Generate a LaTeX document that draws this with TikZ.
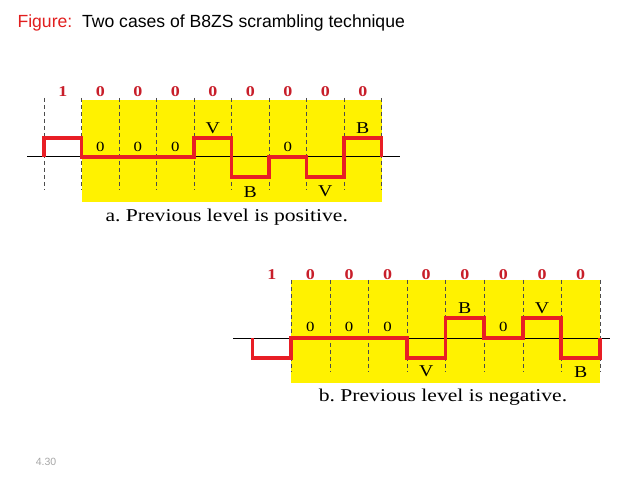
\documentclass[tikz,border=0pt]{standalone}
\usepackage{fontspec}
\setmainfont{Liberation Serif}
\newfontfamily\titlefont{Liberation Sans}
\newfontfamily\wideserif[FakeStretch=1.2]{Liberation Serif}
\usetikzlibrary{positioning}
\definecolor{sigred}{RGB}{232,30,37}
\definecolor{bitred}{RGB}{200,30,42}
\definecolor{hiyellow}{RGB}{255,242,0}
\definecolor{figred}{RGB}{225,30,30}

\begin{document}
\begin{tikzpicture}[x=1pt, y=-1pt,
    bit/.style={font=\wideserif\fontsize{15}{15}\selectfont\bfseries, text=bitred},
    sym/.style={font=\wideserif\fontsize{16.5}{16.5}\selectfont},
    zero/.style={font=\wideserif\fontsize{14}{14}\selectfont},
    caption/.style={font=\wideserif\fontsize{18}{18}\selectfont},
    divline/.style={gray!60!black, thin, dash pattern=on 4pt off 3pt},
    axisline/.style={black, line width=0.7pt},
    signal/.style={sigred, line width=3.8pt, line join=miter}]

    \useasboundingbox (0,0) rectangle (638,478);

    \node[anchor=west, font=\titlefont\fontsize{17.6}{17.6}\selectfont] (title) at (14,23)
        {\textcolor{figred}{Figure:}~~Two cases of B8ZS scrambling technique};

    % a. previous level is positive
    \fill[hiyellow] (81.5,100) rectangle (381.5,202);
    \foreach \i in {0,...,9}
        \draw[divline] ({44+37.5*\i},98) -- ({44+37.5*\i},190);
    \draw[axisline] (27,156.7) -- (400,156.7);
    \draw[signal] (44,156.7) |- (81.5,137.7) |- (194,156.7) |- (231.5,137.7)
        |- (269,176.7) |- (306.5,156.7) |- (344,176.7) |- (381.5,137.7) -- (381.5,156.7);

    \foreach \b [count=\i from 0] in {1,0,0,0,0,0,0,0,0}
        \node[bit] (bita\i) at ({62.75+37.5*\i},91.7) {\b};
    \foreach \i in {1,2,3,6}
        \node[zero] (zeroa\i) at ({62.75+37.5*\i},146.7) {0};
    \node[sym] (va1) at (212.75,128) {V};
    \node[sym] (ba1) at (250.25,191.7) {B};
    \node[sym] (va2) at (325.25,191.7) {V};
    \node[sym] (ba2) at (362.75,128) {B};
    \node[caption] (capa) at (226.7,217) {a.\ Previous level is positive.};

    % b. previous level is negative
    \fill[hiyellow] (291.1,280) rectangle (599.9,383);
    \foreach \i in {1,...,9}
        \draw[divline] ({252.5+38.6*\i},280) -- ({252.5+38.6*\i},372);
    \draw[axisline] (233,338.3) -- (610,338.3);
    \draw[signal] (252.5,338.3) |- (291.1,357.7) |- (406.9,338.3) |- (445.5,357.7)
        |- (484.1,318.3) |- (522.7,338.3) |- (561.3,318.3) |- (599.9,357.7) -- (599.9,338.3);

    \foreach \b [count=\i from 0] in {1,0,0,0,0,0,0,0,0}
        \node[bit] (bitb\i) at ({271.8+38.6*\i},275) {\b};
    \foreach \i in {1,2,3,6}
        \node[zero] (zerob\i) at ({271.8+38.6*\i},326.7) {0};
    \node[sym] (vb1) at (426.2,371.7) {V};
    \node[sym] (bb1) at (464.8,308) {B};
    \node[sym] (vb2) at (542,308) {V};
    \node[sym] (bb2) at (580.6,371.7) {B};
    \node[caption] (capb) at (443,397) {b.\ Previous level is negative.};

    \node[text=gray!70, font=\titlefont\fontsize{10.5}{10.5}\selectfont] (pagenum) at (46,462) {4.30};
\end{tikzpicture}
\end{document}
